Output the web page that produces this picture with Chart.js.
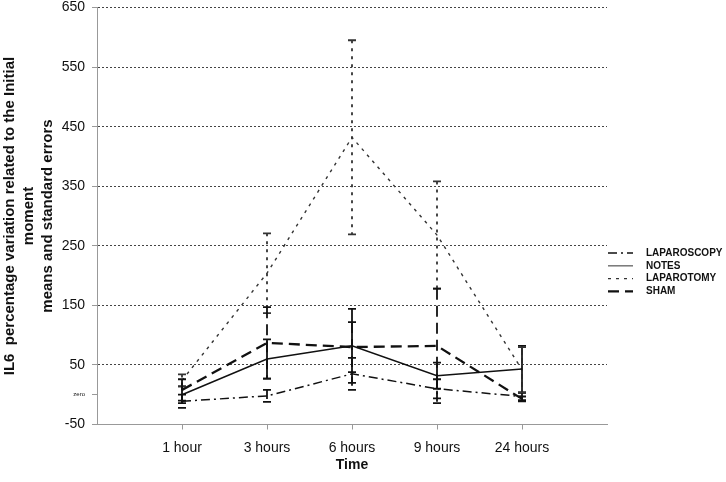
<!DOCTYPE html>
<html>
<head>
<meta charset="utf-8">
<script src="https://cdn.jsdelivr.net/npm/chart.js@4"></script>
<style>
  body { margin: 0; background: #fff; }
  #wrap { width: 726px; height: 482px; }
</style>
</head>
<body>
<div id="wrap"><canvas id="chart__il6" width="726" height="482"></canvas></div>
<script>
// time points on the x axis
const hours = ['1 hour', '3 hours', '6 hours', '9 hours', '24 hours'];
const yTicks = [-50, 0, 50, 150, 250, 350, 450, 550, 650];

// means and standard errors
const laparoscopyMean = [-11, -2, 35, 10, -3];
const laparoscopyErr = [11, 10, 27, 16, 6];
const notesMean = [0, 60, 82, 32, 43];
const notesErr = [14, 33, 62, 22, 39];
const laparotomyMean = [24, 204, 432, 268, 42];
const laparotomyErr = [10, 67, 163, 90, 38];
const shamMean = [8, 87, 80, 82, -7];
const shamErr = [18, 60, 42, 96, 4];

Chart.defaults.font.family = '"Liberation Sans", Arial, sans-serif';
Chart.defaults.color = '#111';

const toPoints = vals => vals.map((v, i) => ({ x: i + 1, y: v }));

// vertical error bars, drawn with the same dash as the series
const errorBars = {
  id: 'errorBars',
  afterDatasetsDraw(chart) {
    const { ctx, scales: { x, y } } = chart;
    chart.data.datasets.forEach(ds => {
      ctx.save();
      ctx.strokeStyle = ds.borderColor;
      ctx.lineWidth = 1.8;
      ds.data.forEach((p, j) => {
        const e = ds.errors[j];
        const px = x.getPixelForValue(p.x);
        const top = y.getPixelForValue(p.y + e);
        const bot = y.getPixelForValue(p.y - e);
        ctx.setLineDash(ds.borderDash || []);
        ctx.beginPath();
        ctx.moveTo(px, top);
        ctx.lineTo(px, bot);
        ctx.stroke();
        ctx.setLineDash([]);
        ctx.beginPath();
        ctx.moveTo(px - 4, top); ctx.lineTo(px + 4, top);
        ctx.moveTo(px - 4, bot); ctx.lineTo(px + 4, bot);
        ctx.stroke();
      });
      ctx.restore();
    });
  }
};

// legend on the right, like the original
const sideLegend = {
  id: 'sideLegend',
  afterDraw(chart) {
    const { ctx, chartArea } = chart;
    const x0 = chartArea.right + 1;
    let yy = 253;
    ctx.save();
    ctx.font = 'bold 10px "Liberation Sans", Arial, sans-serif';
    ctx.textBaseline = 'middle';
    ctx.fillStyle = '#111';
    chart.data.datasets.forEach(ds => {
      ctx.strokeStyle = ds.legendColor || ds.borderColor;
      ctx.lineWidth = ds.borderWidth;
      ctx.setLineDash(ds.borderDash || []);
      ctx.beginPath();
      ctx.moveTo(x0, yy);
      ctx.lineTo(x0 + 25, yy);
      ctx.stroke();
      ctx.fillText(ds.label, x0 + 38, yy);
      yy += 12.8;
    });
    ctx.restore();
  }
};

new Chart(document.getElementById('chart__il6'), {
  type: 'line',
  data: {
    datasets: [{
      label: 'LAPAROSCOPY',
      data: toPoints(laparoscopyMean),
      errors: laparoscopyErr,
      borderColor: '#111',
      borderWidth: 1.5,
      borderDash: [9, 4, 2, 4]
    }, {
      label: 'NOTES',
      data: toPoints(notesMean),
      errors: notesErr,
      borderColor: '#111',
      legendColor: '#777',
      borderWidth: 1.5
    }, {
      label: 'LAPAROTOMY',
      data: toPoints(laparotomyMean),
      errors: laparotomyErr,
      borderColor: '#333',
      borderWidth: 1.4,
      borderDash: [3, 5]
    }, {
      label: 'SHAM',
      data: toPoints(shamMean),
      errors: shamErr,
      borderColor: '#111',
      borderWidth: 2.3,
      borderDash: [11, 6]
    }]
  },
  options: {
    responsive: false,
    animation: false,
    layout: { padding: { top: 0, right: 119, left: 0, bottom: 0 } },
    elements: { point: { radius: 0 }, line: { tension: 0, fill: false } },
    plugins: { legend: { display: false }, tooltip: { enabled: false } },
    scales: {
      x: {
        type: 'linear',
        min: 0,
        max: 6,
        afterBuildTicks: axis => { axis.ticks = hours.map((_, i) => ({ value: i + 1 })); },
        afterFit: axis => { axis.height = 57.5; },
        ticks: {
          font: { size: 14 },
          padding: 10,
          maxRotation: 0,
          callback: v => hours[v - 1]
        },
        grid: { drawOnChartArea: false, tickLength: 5, tickColor: '#999' },
        border: { color: '#999', width: 1 },
        title: {
          display: true,
          text: 'Time',
          font: { size: 14, weight: 'bold' },
          padding: { top: 0, bottom: 8 }
        }
      },
      y: {
        min: -50,
        max: 650,
        afterBuildTicks: axis => { axis.ticks = yTicks.map(v => ({ value: v })); },
        afterFit: axis => {
          axis.width = 97;
          axis.paddingTop = 7.5;
          axis.paddingBottom = 0;
        },
        ticks: {
          padding: 7,
          font: ctx => ctx.tick && ctx.tick.value === 0 ? { size: 6 } : { size: 14 },
          callback: v => v === 0 ? 'zero' : v
        },
        grid: {
          color: ctx => ctx.tick && ctx.tick.value > 0 ? '#444' : 'rgba(0,0,0,0)',
          tickLength: 5,
          tickColor: '#999'
        },
        border: { color: '#999', width: 1, dash: [2, 2] },
        title: {
          display: true,
          text: ['IL6  percentage variation related to the Initial', 'moment', 'means and standard errors'],
          font: { size: 15, weight: 'bold', lineHeight: 1.27 },
          padding: { top: 0, bottom: 0 }
        }
      }
    }
  },
  plugins: [errorBars, sideLegend]
});
</script>
</body>
</html>
